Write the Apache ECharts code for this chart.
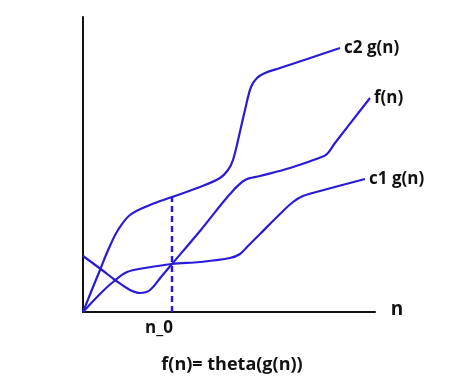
<!DOCTYPE html>
<html>
<head>
<meta charset="utf-8">
<script src="https://cdn.jsdelivr.net/npm/echarts@6/dist/echarts.min.js"></script>
<style>html,body{margin:0;padding:0;background:#fff}#c{width:474px;height:379px}</style>
</head>
<body>
<div id="c"></div>
<script>
// Data (x = n, y = value)
const c2g = [[0,0],[8,20],[17,42],[26,64],[35,82],[47,97],[67,107],[89,115],[117,125],[137,134],[145,142],[150,152],[156,176],[162,202],[168,225],[174,234],[182,239],[197,244],[257,264]];
const fn  = [[0,56],[19,42],[32,32],[47,22],[57,19],[67,22],[78,35],[89,48],[117,81],[147,118],[162,132],[177,136],[207,144],[236,154],[244,158],[252,169],[287,214]];
const c1g = [[0,0],[17,18],[30,30],[44,40],[62,44],[89,48],[117,50],[147,54],[157,58],[165,66],[177,78],[197,98],[210,110],[220,116],[237,121],[282,133]];
const n0 = 89;
const n0Top = 115;
const seriesNames = ['c2 g(n)', 'f(n)', 'c1 g(n)'];
const axisNames = ['n', 'n_0'];
const title = 'f(n)= theta(g(n))';

const blue = '#2a1cd6';
const font = '"Open Sans", "Noto Sans", sans-serif';
const chart = echarts.init(document.getElementById('c'));
function lineSeries(name, data) {
  return {
    type: 'line', name: name, data: data, smooth: 0.35, showSymbol: false,
    lineStyle: { color: blue, width: 2.2 }, silent: true, z: 3,
    endLabel: { show: true, formatter: name, color: '#111', fontFamily: font,
      fontWeight: 'bold', fontSize: 17, distance: 4 }
  };
}
chart.setOption({
  animation: false,
  grid: { left: 83, top: 17, width: 292, height: 295 },
  xAxis: { type: 'value', min: 0, max: 292,
    axisLine: { show: true, onZero: false, lineStyle: { color: '#111', width: 2 } },
    axisTick: { show: false }, axisLabel: { show: false }, splitLine: { show: false } },
  yAxis: { type: 'value', min: 0, max: 295,
    axisLine: { show: true, onZero: false, lineStyle: { color: '#111', width: 2 } },
    axisTick: { show: false }, axisLabel: { show: false }, splitLine: { show: false } },
  series: [
    lineSeries(seriesNames[0], c2g),
    lineSeries(seriesNames[1], fn),
    lineSeries(seriesNames[2], c1g),
    { type: 'line', data: [[n0,0],[n0,n0Top]], showSymbol: false, silent: true,
      lineStyle: { color: blue, width: 2.5, type: [6,4] }, z: 2 }
  ],
  graphic: [
    { type: 'text', x: 397, y: 310, style: { text: axisNames[0], fill: '#111', font: 'bold 19px ' + font, align: 'center', verticalAlign: 'middle' } },
    { type: 'text', x: 159, y: 328, style: { text: axisNames[1], fill: '#111', font: 'bold 17px ' + font, align: 'center', verticalAlign: 'middle' } },
    { type: 'text', x: 232, y: 365, style: { text: title, fill: '#111', font: 'bold 18px ' + font, align: 'center', verticalAlign: 'middle' } }
  ]
});
</script>
</body>
</html>
